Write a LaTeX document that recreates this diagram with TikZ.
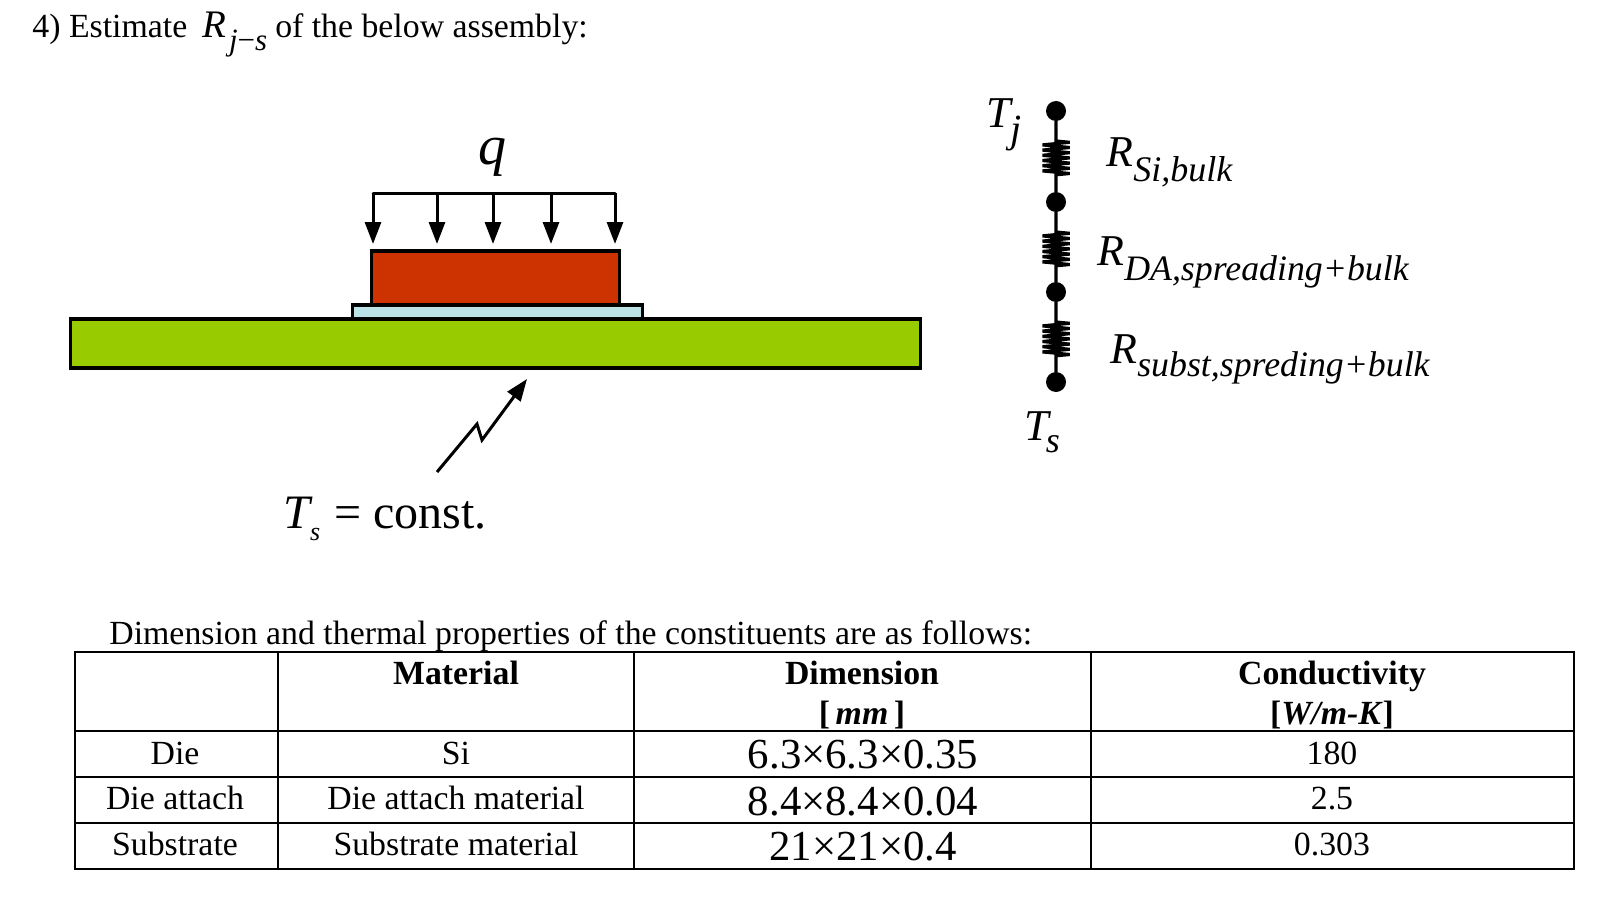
\documentclass[tikz,border=0pt]{standalone}
\usepackage{fontspec}
\setmainfont{Liberation Serif}
\usetikzlibrary{positioning}
\usetikzlibrary{arrows.meta}
\usetikzlibrary{decorations.pathmorphing}
\newcommand{\sublabel}[4]{\textit{#1\raisebox{-#3}{\fontsize{#4}{#4}\selectfont #2}}}
\definecolor{diered}{HTML}{CC3300}
\definecolor{attachblue}{HTML}{BBE2E6}
\definecolor{substgreen}{HTML}{99CC00}
\tikzset{
	slab/.style = {rectangle,draw,line width=1.75pt,inner sep=0pt,outer sep=0pt},
	joint/.style = {circle,fill=black,inner sep=0pt,outer sep=0pt,minimum size=10pt},
	resistor/.style = {line width=1.6pt,decorate,decoration={zigzag,amplitude=6.8pt,segment length=2.6pt,pre length=10pt,post length=7.5pt}},
	flux/.style = {line width=1.5pt,-{Triangle[length=11pt,width=8pt]},shorten >=3.5pt},
	txt/.style = {anchor=base,inner sep=0pt,font=\fontsize{16.9pt}{20pt}\selectfont},
	lefttxt/.style = {txt,anchor=base west},
	big/.style = {txt,font=\fontsize{21.4pt}{24pt}\selectfont},
	sym/.style = {anchor=base west,inner sep=0pt,font=\fontsize{22pt}{26pt}\selectfont},
	grid line/.style = {line width=1pt}}
\begin{document}
\begin{tikzpicture}[x=0.5pt,y=-0.5pt]
    \useasboundingbox (0,0) rectangle (1600,920);
    \node (title) [lefttxt] at (32,38) {4) Estimate\hspace{7.5pt}{\fontsize{19.5pt}{20pt}\selectfont\textit{R}}\hspace{1.5pt}\raisebox{-6.5pt}{\fontsize{15.5pt}{15pt}\selectfont\textit{j}−\textit{s}}\hspace{4pt}of the below assembly:};
    % assembly
    \node (subst) [slab,fill=substgreen,minimum width=425pt,minimum height=24.5pt] at (495.5,343.5) {};
    \node (attach) [slab,fill=attachblue,minimum width=145pt,minimum height=7pt,above = 0pt of subst,xshift=1pt] {};
    \node (die) [slab,fill=diered,minimum width=124pt,minimum height=27pt,above = 0pt of attach,xshift=-1pt] {};
    \node (q) [sym,anchor=base,font=\fontsize{28pt}{30pt}\selectfont\itshape] at (492,164) {q};
    \coordinate (qa) at (373,193);
    \coordinate (qb) at (437,193);
    \coordinate (qc) at (493,193);
    \coordinate (qd) at (551,193);
    \coordinate (qe) at (615,193);
    \draw[line width=1.5pt,line cap=round] (qa) -- (qe);
    \draw[flux] (qa) -- (qa |- die.north);
    \draw[flux] (qb) -- (qb |- die.north);
    \draw[flux] (qc) -- (qc |- die.north);
    \draw[flux] (qd) -- (qd |- die.north);
    \draw[flux] (qe) -- (qe |- die.north);
    % heat sink arrow
    \coordinate (za) at (437,472);
    \coordinate (zb) at (477,424);
    \coordinate (zc) at (482,440);
    \coordinate (zd) at (527,379);
    \draw[line width=1.5pt,-{Triangle[length=11pt,width=8pt]}] (za) -- (zb) -- (zc) -- (zd);
    \node (tsconst) [sym,font=\fontsize{24pt}{26pt}\selectfont] at (283,528) {\sublabel{T}{s}{6pt}{13pt}\hspace{7pt}= const.};
    % resistor network
    \node (tj) [joint] at (1056,111) {};
    \node (n1) [joint,below = 45.5pt of tj.center,anchor=center] {};
    \node (n2) [joint,below = 45pt of n1.center,anchor=center] {};
    \node (ts) [joint,below = 45pt of n2.center,anchor=center] {};
    \draw[resistor] (tj) -- (n1);
    \draw[resistor] (n1) -- (n2);
    \draw[resistor] (n2) -- (ts);
    \node (tjlabel) [sym] at (986,127) {\sublabel{T}{j}{7.5pt}{20pt}};
    \node (tslabel) [sym] at (1024,440) {\sublabel{T}{\kern-1.5pt s}{6pt}{18pt}};
    \node (rsi) [sym] at (1106,166) {\sublabel{R}{Si,bulk}{7.5pt}{18pt}};
    \node (rda) [sym] at (1097,265) {\sublabel{R}{DA,spreading+bulk}{7.5pt}{17.9pt}};
    \node (rsub) [sym] at (1110,363) {\sublabel{R}{subst,spreding+bulk}{6.5pt}{17.9pt}};
    % table
    \node (caption) [lefttxt] at (109,644) {Dimension and thermal properties of the constituents are as follows:};
    \draw[grid line] (75,652) rectangle (1574,869);
    \draw[grid line] (75,731) -- (1574,731);
    \draw[grid line] (75,777) -- (1574,777);
    \draw[grid line] (75,823) -- (1574,823);
    \draw[grid line] (278,652) -- (278,869);
    \draw[grid line] (634,652) -- (634,869);
    \draw[grid line] (1091,652) -- (1091,869);
    \node (hmat) [txt] at (456,684) {\textbf{Material}};
    \node (hdim) [txt] at (862,684) {\textbf{Dimension}};
    \node (hdimu) [txt] at (862,724) {\textbf{[\,\textit{mm}\,]}};
    \node (hcon) [txt] at (1332,684) {\textbf{Conductivity}};
    \node (hconu) [txt] at (1332,724) {\textbf{[\textit{W/m-K}]}};
    \node (rowa) [txt] at (175,764) {Die};
    \node (rowb) [txt] at (175,809.5) {Die attach};
    \node (rowc) [txt] at (175,855.5) {Substrate};
    \node (mata) [txt] at (456,764) {Si};
    \node (matb) [txt] at (456,809.5) {Die attach material};
    \node (matc) [txt] at (456,855.5) {Substrate material};
    \node (dima) [big] at (863,768) {6.3×6.3×0.35};
    \node (dimb) [big] at (863,815) {8.4×8.4×0.04};
    \node (dimc) [big] at (863,860) {21×21×0.4};
    \node (cona) [txt] at (1332,764) {180};
    \node (conb) [txt] at (1332,809.5) {2.5};
    \node (conc) [txt] at (1332,855.5) {0.303};
\end{tikzpicture}
\end{document}
